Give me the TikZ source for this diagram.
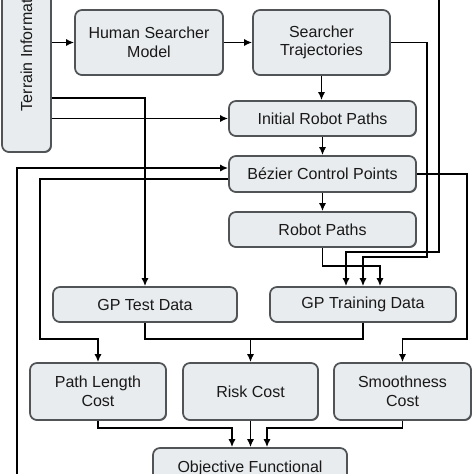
\documentclass[tikz,border=0pt]{standalone}
\usepackage{fontspec}
\setmainfont{Liberation Sans}
\usetikzlibrary{arrows.meta,calc,shadows}
\definecolor{boxfill}{RGB}{232,236,238}
\definecolor{boxline}{RGB}{80,84,86}

\begin{document}
\begin{tikzpicture}
[
x=1pt, y=-1pt,
block/.style={draw=boxline, line width=1.7pt, fill=boxfill, rounded corners=7pt, align=center, text=black!90,
  font=\fontsize{16}{18.5}\selectfont, inner sep=2pt,
  drop shadow={shadow xshift=0.9pt, shadow yshift=-0.9pt, fill=black!60, opacity=1}},
line/.style={draw=black, line width=1.4pt},
arrow/.style={line, -{Latex[length=8pt,width=7pt]}}
]
\useasboundingbox (0,0) rectangle (474,474);
% boxes
\node (Terrain) [block, rotate=90, minimum width=215pt, minimum height=49pt] at (26.5,44.5) {Terrain Information};
\node (HSM) [block, minimum width=148pt, minimum height=65pt] at (149,42.5) {Human Searcher\\Model};
\node (ST) [block, minimum width=137pt, minimum height=65pt] at (321.5,42.5) {Searcher\\Trajectories};
\node (IRP) [block, minimum width=187pt, minimum height=35pt] at (322.5,118.5) {Initial Robot Paths};
\node (BCP) [block, minimum width=187pt, minimum height=36pt] at (322.5,174) {Bézier Control Points};
\node (RP) [block, minimum width=187pt, minimum height=35pt] at (322.5,229.5) {Robot Paths};
\node (GPTest) [block, minimum width=184pt, minimum height=35pt] at (145,304.5) {GP Test Data};
\node (GPTrain) [block, minimum width=186pt, minimum height=35pt] at (363,304.5) {GP Training Data};
\node (PLC) [block, minimum width=136pt, minimum height=57pt] at (98,391.5) {Path Length\\Cost};
\node (RC) [block, minimum width=135pt, minimum height=57pt] at (250.5,391.5) {Risk Cost};
\node (SC) [block, minimum width=137pt, minimum height=57pt] at (402.5,391.5) {Smoothness\\Cost};
\node (OF) [block, minimum width=194pt, minimum height=40pt] at (250,468) {Objective Functional};

% connectors
\coordinate (RCin) at (250.5,339);
\coordinate (BCPin) at ([yshift=6pt]BCP.west);
\coordinate (BCPout) at ([yshift=-5pt]BCP.west);
\draw[arrow] (Terrain.south |- HSM.west) -- (HSM.west);
\draw[arrow] (HSM.east) -- (ST.west);
\draw[arrow] (Terrain.south |- 0,98) -| (GPTest.north);
\draw[arrow] (Terrain.south |- IRP.west) -- (IRP.west);
\draw[arrow] (Terrain.east) |- (439,-90) -- (439,252) -| ([xshift=-17pt]GPTrain.north);
\draw[arrow] (ST.east) -| (427,257) -| (GPTrain.north);
\draw[arrow] (ST.south) -- (ST.south |- IRP.north);
\draw[arrow] (IRP.south) -- (IRP.south |- BCP.north);
\draw[arrow] (BCP.south) -- (BCP.south |- RP.north);
\draw[arrow] (RP.south) -- ++(0,18) -| ([xshift=17pt]GPTrain.north);
\draw[arrow] (BCP.east) -| (467,339) -| (SC.north);
\draw[arrow] (BCPout) -| (40,339) -| (PLC.north);
\draw[line] (GPTest.south) |- (RCin);
\draw[line] (GPTrain.south) |- (RCin);
\draw[arrow] (RCin) -- (RC.north);
\draw[arrow] (PLC.south) -- ++(0,7) -| ([xshift=-18pt]OF.north);
\draw[arrow] (RC.south) -- (RC.south |- OF.north);
\draw[arrow] (SC.south) -- ++(0,7) -| ([xshift=17pt]OF.north);
\draw[arrow] (OF.south) -- ++(0,12) -| (BCPin -| 17,0) -- (BCPin);
\end{tikzpicture}
\end{document}
